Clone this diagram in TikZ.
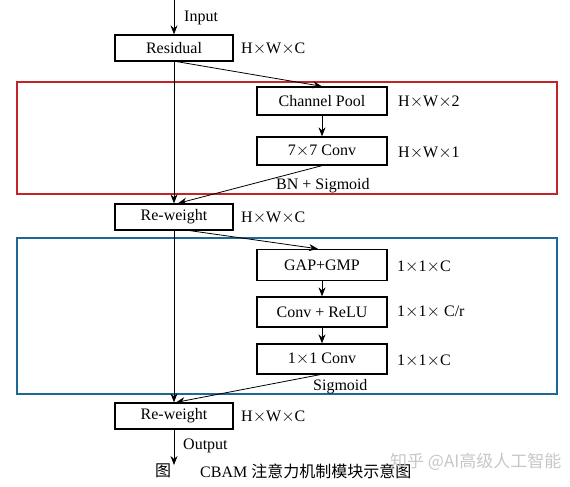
\documentclass[tikz,border=0pt]{standalone}
\usepackage{fontspec}
\setmainfont{Liberation Serif}
\newfontfamily\cjk{Noto Sans CJK SC}
\usetikzlibrary{arrows.meta,calc}
\definecolor{boxred}{RGB}{196,36,40}
\definecolor{boxblue}{RGB}{30,104,150}
\tikzset{
  blk/.style={draw,line width=1.3pt,minimum width=130pt,minimum height=28pt,inner sep=0pt,font=\fontsize{16}{18}\selectfont},
  mainblk/.style={blk,minimum width=118pt,minimum height=26pt},
  dimlbl/.style={anchor=west,inner sep=0pt,font=\fontsize{16}{18}\selectfont},
  conn/.style={line width=0.8pt,-{Stealth[length=9pt,width=7pt]}},
  group/.style={line width=1.3pt}
}
\begin{document}
\begin{tikzpicture}[x=1pt,y=-1pt]
\useasboundingbox (0,0) rectangle (570,487);
% group frames
\draw[group,boxred] (17,82) rectangle (557,194);
\draw[group,boxblue] (17,238) rectangle (557,394);
% main column
\coordinate (top) at (174,0);
\node[mainblk] (res) at (174,48) {Residual};
\node[mainblk] (rw1) at (174,217) {Re-weight};
\node[mainblk] (rw2) at (174,416) {Re-weight};
\coordinate (out) at (174,465);
% spatial branch
\node[blk] (cp) at (322,101) {Channel Pool};
\node[blk] (c7) at (322,151) {7$\times$7 Conv};
% channel branch
\node[blk,minimum height=31pt] (gap) at (322,265) {GAP+GMP};
\node[blk,minimum height=30pt] (cr) at (322,312) {Conv + ReLU};
\node[blk,minimum height=30pt] (c1) at (322,359) {1$\times$1 Conv};
% dimension labels
\node[dimlbl] (d0) at (241,49) {H$\times$W$\times$C};
\node[dimlbl] (d1) at (398,102) {H$\times$W$\times$2};
\node[dimlbl] (d2) at (398,153) {H$\times$W$\times$1};
\node[dimlbl] (d3) at (241,218) {H$\times$W$\times$C};
\node[dimlbl] (d4) at (397,267) {1$\times$1$\times$C};
\node[dimlbl] (d5) at (397,312) {1$\times$1$\times$ C/r};
\node[dimlbl] (d6) at (397,361) {1$\times$1$\times$C};
\node[dimlbl] (d7) at (241,417) {H$\times$W$\times$C};
% other labels
\node[dimlbl] (lin) at (184,18) {Input};
\node[dimlbl] (lout) at (183,446) {Output};
\node[dimlbl] (lbn) at (276,186) {BN + Sigmoid};
\node[dimlbl] (lsg) at (313,387) {Sigmoid};
% connectors
\draw[conn] (top) -- (res.north);
\draw[conn] (res.south) -- (rw1.north);
\draw[conn] (rw1.south) -- (rw2.north);
\draw[conn] (rw2.south) -- (out);
\draw[conn] ([xshift=3pt]res.south) -- (cp.north);
\draw[conn] (cp.south) -- (c7.north);
\draw[conn] (c7.south) -- ([xshift=4pt]rw1.north);
\draw[conn] ([xshift=16pt]rw1.south) -- ([xshift=-4pt]gap.north);
\draw[conn] (gap.south) -- (cr.north);
\draw[conn] (cr.south) -- (c1.north);
\draw[conn] ([xshift=-2pt]c1.south) -- ([xshift=2pt]rw2.north);
% caption
\node[anchor=west,inner sep=0pt] (cap1) at (155,471) {\cjk\fontsize{16}{18}\selectfont 图};
\node[anchor=west,inner sep=0pt] (cap2) at (200,471) {\fontsize{16}{18}\selectfont CBAM \cjk 注意力机制模块示意图};
\node[anchor=west,inner sep=0pt,text=black!22] (wm) at (390,462) {\cjk\fontsize{17}{19}\selectfont 知乎 @AI高级人工智能};
\end{tikzpicture}
\end{document}
